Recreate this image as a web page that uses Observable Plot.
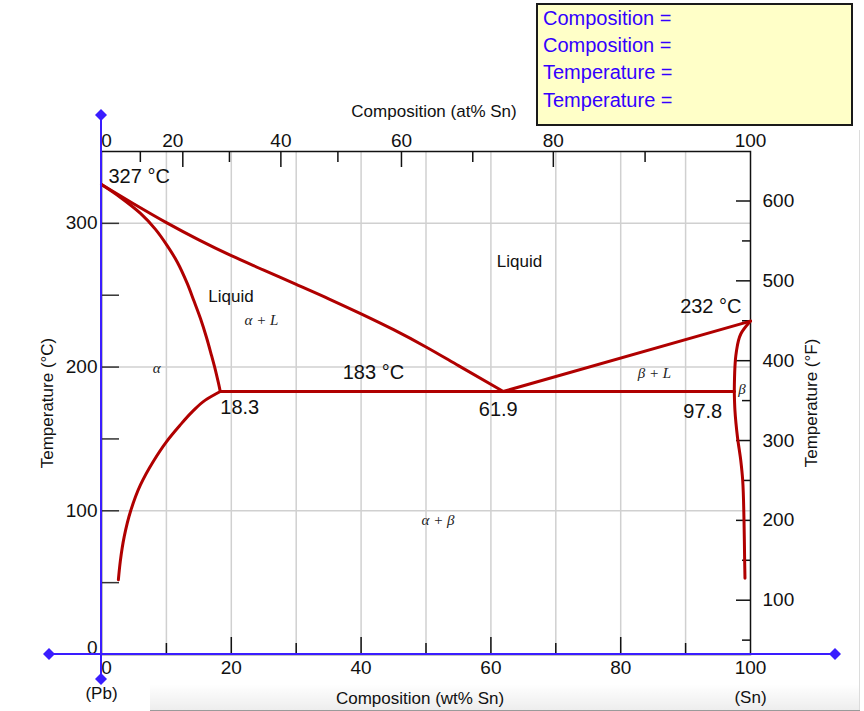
<!DOCTYPE html>
<html>
<head>
<meta charset="utf-8">
<script src="https://cdn.jsdelivr.net/npm/d3@7"></script>
<script src="https://cdn.jsdelivr.net/npm/@observablehq/plot@0.6"></script>
<style>
  html, body { margin: 0; padding: 0; background: #fff; }
  #wrap { position: relative; width: 864px; height: 711px; overflow: hidden;
          font-family: "Liberation Sans", Arial, Helvetica, sans-serif; }
  #chart { position: absolute; left: 0; top: 0; }
  #readout { position: absolute; left: 536px; top: 3px; width: 317px; height: 123px;
             box-sizing: border-box; background: #ffffc8; border: 2px solid #1a1a1a;
             padding: 0 0 0 5px; color: #3300ff; font-size: 20px; line-height: 27.2px; }
  #shade { position: absolute; left: 150px; right: 4px; top: 684px; height: 26px;
           background: linear-gradient(to bottom, rgba(0,0,0,0), rgba(0,0,0,0.07));
           border-bottom: 1px solid #9a9a9a; }
  #edge { position: absolute; left: 859px; top: 130px; width: 1px; height: 580px; background: #dcdcdc; }
</style>
</head>
<body>
<div id="wrap">
  <div id="shade"></div>
  <div id="edge"></div>
  <div id="chart"></div>
  <div id="readout"></div>
</div>
<script>
// ---------- data (wt% Sn, °C) ----------
const liquidusAlpha = [[0,327],[5,313.5],[10,300.5],[15,288.5],[20,277.5],[25,267.5],[30,257.5],[35,247.5],[40,237],[45,226],[50,214],[55,201],[61.9,183]];
const solidusAlpha  = [[0,327],[2.93,318],[6.01,306.9],[8.32,295.8],[10.12,284.5],[11.71,272.8],[13.21,258.2],[14.22,246.3],[15.25,233.8],[16.18,220.6],[16.95,208.1],[17.57,197.6],[18.0,189.3],[18.3,183]];
const solvusAlpha   = [[18.3,183],[16,177],[14,169],[12,159],[10,148],[8,134.5],[6,118],[4.5,100],[3.5,82],[2.9,65],[2.6,52]];
const eutecticLine  = [[18.3,183],[97.5,183]];
const liquidusBeta  = [[61.9,183],[100,232]];
const solidusBeta   = [[100,232],[98.5,223],[97.8,210],[97.6,200],[97.5,183]];
const solvusBeta    = [[97.5,183],[97.6,170],[98.0,151],[98.5,135],[98.8,121],[99.0,93],[99.1,65],[99.15,53]];

// key points and their labels
const meltPb = [[0,327]],  meltPbLabel = ["327 °C"];
const meltSn = [[100,232]], meltSnLabel = ["232 °C"];
const eutecticTempLabel = ["183 °C"], eutecticTempAt = [[41.9,183]];
const eutecticPoints = [[18.3,183],[61.9,183],[97.8,183]];
const eutecticPointLabels = ["18.3","61.9","97.8"];

// phase-region labels
const liquidLabels = ["Liquid","Liquid"];
const liquidAt = [[64.4,273.5],[19.95,249]];
const greekLabels = ["α + L","α","α + β","β + L","β"];
const greekAt = [[24.65,232.4],[8.5,199],[51.85,93.2],[85.2,196],[98.7,184.4]];

// axes
const wtGrid = [10,20,30,40,50,60,70,80,90];
const tempGrid = [100,200,300];
const wtTicks = [10,20,30,40,50,60,70,80,90];
const wtLabels = [20,40,60,80,100];
const tempTicks = [50,100,150,200,250,300];
const tempLabels = [100,200,300];
const fTicks = [50,100,150,200,250,300,350,400,450,500,550,600];
const fLabels = [100,200,300,400,500,600];
const atTicks = [10,20,30,40,50,60,70,80,90];
const atLabels = [0,20,40,60,80,100];
const readoutLines = ["Composition =","Composition =","Temperature =","Temperature ="];
const endNames = ["(Pb)","(Sn)"];

// ---------- conversions ----------
const M_SN = 118.71, M_PB = 207.2;
const atToWt = a => a === 0 ? 0 : a === 100 ? 100 : 100 * a * M_SN / (a * M_SN + (100 - a) * M_PB);
const wtToAt = w => Math.round(100 * (w / M_SN) / (w / M_SN + (100 - w) / M_PB));
const fToC = f => (f - 32) * 5 / 9;

// ---------- layout ----------
const W = 864, H = 711, ML = 101, MR = 114, MT = 151, MB = 57;
const pxX = (W - ML - MR) / 100;
const pxY = (H - MT - MB) / 350;
const RED = "#b00000", BLUE = "#3a1dff", GRID = "#d0d0d0", INK = "#111";
const SANS = "'Liberation Sans', Arial, Helvetica, sans-serif";
const SERIF = "'Liberation Serif', 'DejaVu Serif', serif";

const curve = (data, c) =>
  Plot.line(data, {x: d => d[0], y: d => d[1], stroke: RED, strokeWidth: 3, curve: c, strokeLinejoin: "round", strokeLinecap: "round"});

const atMain = atLabels.filter(d => d > 20);

const plot = Plot.plot({
  width: W, height: H,
  marginLeft: ML, marginRight: MR, marginTop: MT, marginBottom: MB,
  x: {domain: [0, 100], axis: null},
  y: {domain: [0, 350], axis: null},
  style: {fontFamily: SANS, fontSize: "19px", color: INK, background: "transparent", overflow: "visible"},
  marks: [
    Plot.ruleX(wtGrid, {stroke: GRID, strokeWidth: 1.5}),
    Plot.ruleY(tempGrid, {stroke: GRID, strokeWidth: 1.5}),
    Plot.frame({stroke: INK, strokeWidth: 1.5}),
    // inward ticks
    Plot.ruleY(tempTicks, {y: d => d, x1: 0, x2: 18 / pxX, stroke: "#333", strokeWidth: 1.5}),
    Plot.ruleX(wtTicks, {x: d => d, y1: 0, y2: d => (d % 20 === 0 ? 17 : 11) / pxY, stroke: INK, strokeWidth: 1.5}),
    Plot.ruleY(fTicks, {y: fToC, x1: d => 100 - (d % 100 === 0 ? 14 : 8) / pxX, x2: 100, stroke: INK, strokeWidth: 1.5}),
    Plot.ruleX(atTicks, {x: atToWt, y1: d => 350 - (d % 20 === 0 ? 16 : 11) / pxY, y2: 350, stroke: INK, strokeWidth: 1.5}),
    // tick labels
    Plot.axisY(tempLabels, {anchor: "left", tickSize: 0, tickPadding: 4, label: null}),
    Plot.axisY([0], {anchor: "left", tickSize: 0, tickPadding: 4, dy: -7, label: null}),
    Plot.axisY(fLabels.map(fToC), {anchor: "right", tickSize: 0, tickPadding: 12, label: null,
      tickFormat: c => String(Math.round(c * 9 / 5 + 32))}),
    Plot.axisX(wtLabels, {anchor: "bottom", tickSize: 0, tickPadding: 6, label: null}),
    Plot.axisX([0], {anchor: "bottom", tickSize: 0, tickPadding: 6, dx: 5, label: null}),
    Plot.axisX(atMain.map(atToWt), {anchor: "top", tickSize: 0, tickPadding: 5, label: null, tickFormat: wtToAt}),
    Plot.axisX([atToWt(20)], {anchor: "top", tickSize: 0, tickPadding: 5, dx: -10, label: null, tickFormat: wtToAt}),
    Plot.axisX([0], {anchor: "top", tickSize: 0, tickPadding: 5, dx: 5, label: null}),
    // axis titles
    Plot.text(["Temperature (°C)"], {frameAnchor: "left", dx: -54, rotate: -90, fontSize: 17, textAnchor: "middle", lineAnchor: "middle"}),
    Plot.text(["Temperature (°F)"], {frameAnchor: "right", dx: 61, rotate: -90, fontSize: 17, textAnchor: "middle", lineAnchor: "middle"}),
    Plot.text(["Composition (wt% Sn)"], {frameAnchor: "bottom", dx: -6, dy: 44, fontSize: 17, lineAnchor: "middle"}),
    Plot.text(["Composition (at% Sn)"], {frameAnchor: "top", dx: 8, dy: -40, fontSize: 17, lineAnchor: "middle"}),
    Plot.text([endNames[0]], {x: 0, y: 0, dy: 39, fontSize: 17}),
    Plot.text([endNames[1]], {x: 100, y: 0, dy: 43, fontSize: 17}),
    // phase boundaries
    curve(eutecticLine, "linear"),
    curve(liquidusBeta, "linear"),
    curve(liquidusAlpha, "monotone-x"),
    curve(solidusAlpha, "catmull-rom"),
    curve(solvusAlpha, "monotone-y"),
    curve(solidusBeta, "monotone-y"),
    curve(solvusBeta, "monotone-y"),
    // annotations
    Plot.text(meltPb, {x: d => d[0], y: d => d[1], text: (d, i) => meltPbLabel[i], textAnchor: "start", dx: 7, dy: -8, fontSize: 20}),
    Plot.text(meltSn, {x: d => d[0], y: d => d[1], text: (d, i) => meltSnLabel[i], textAnchor: "end", dx: -9, dy: -14, fontSize: 20}),
    Plot.text(eutecticTempAt, {x: d => d[0], y: d => d[1], text: (d, i) => eutecticTempLabel[i], dy: -19, fontSize: 20}),
    Plot.text([eutecticPoints[0]], {x: d => d[0], y: d => d[1], text: () => eutecticPointLabels[0], textAnchor: "start", dx: 0, dy: 16, fontSize: 20}),
    Plot.text([eutecticPoints[1]], {x: d => d[0], y: d => d[1], text: () => eutecticPointLabels[1], dx: -5, dy: 18, fontSize: 20}),
    Plot.text([eutecticPoints[2]], {x: d => d[0], y: d => d[1], text: () => eutecticPointLabels[2], textAnchor: "end", dx: -14, dy: 20, fontSize: 20}),
    Plot.text(liquidAt, {x: d => d[0], y: d => d[1], text: (d, i) => liquidLabels[i], fontSize: 17}),
    Plot.text(greekAt, {x: d => d[0], y: d => d[1], text: (d, i) => greekLabels[i], fontSize: 15, fontFamily: SERIF, fontStyle: "italic", fill: "#222"})
  ]
});

document.getElementById("chart").appendChild(plot);

// blue cursor axes with diamond handles (decoration over the frame)
const sx = plot.scale("x"), sy = plot.scale("y");
const x0 = sx.apply(0), x1 = sx.apply(100), y0 = sy.apply(0), yTop = sy.apply(350);
const svg = d3.select(plot);
const g = svg.append("g");
g.append("line").attr("x1", x0 - 52).attr("x2", x1 + 85).attr("y1", y0).attr("y2", y0)
  .attr("stroke", BLUE).attr("stroke-width", 2);
g.append("line").attr("x1", x0).attr("x2", x0).attr("y1", yTop - 36).attr("y2", y0 + 25)
  .attr("stroke", BLUE).attr("stroke-width", 2);
const diamonds = [[x0 - 52, y0], [x1 + 85, y0], [x0, yTop - 36], [x0, y0 + 25]];
g.selectAll("path.dia").data(diamonds).join("path")
  .attr("d", d => `M${d[0]},${d[1] - 6}L${d[0] + 6},${d[1]}L${d[0]},${d[1] + 6}L${d[0] - 6},${d[1]}Z`)
  .attr("fill", BLUE);

// readout box
d3.select("#readout").selectAll("div").data(readoutLines).join("div").text(d => d);
</script>
</body>
</html>
